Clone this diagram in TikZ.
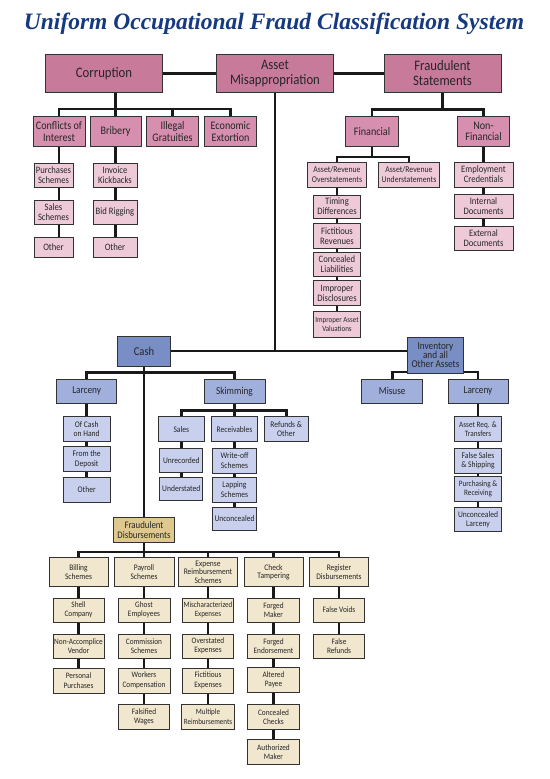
\documentclass[tikz,border=0pt]{standalone}
\usepackage{fontspec}
\setmainfont{Carlito}[FakeStretch=0.88]
\newfontfamily\titlefont{Liberation Serif}
\pgfdeclarelayer{bg}
\pgfsetlayers{bg,main}
\definecolor{pinkA}{RGB}{200,122,155}
\definecolor{pinkB}{RGB}{214,143,174}
\definecolor{pinkC}{RGB}{238,202,217}
\definecolor{blueA}{RGB}{122,142,198}
\definecolor{blueB}{RGB}{160,175,220}
\definecolor{blueC}{RGB}{200,208,238}
\definecolor{tanA}{RGB}{222,200,142}
\definecolor{tanB}{RGB}{241,231,206}
\definecolor{edgecol}{RGB}{50,50,50}
\definecolor{titleblue}{RGB}{22,58,128}
\newcommand\fsz[2]{\fontsize{#1}{#2}\selectfont}
\tikzset{
 box/.style={draw=edgecol, line width=0.8pt, rectangle, inner sep=0pt, align=center, text=black!85},
 sz/.style 2 args={minimum width=#1pt, minimum height=#2pt},
 conn/.style={line width=2.6pt, black!90},
 pA/.style={box, fill=pinkA, font=\fsz{14.5}{15}},
 pB/.style={box, fill=pinkB, font=\fsz{11.5}{11.5}},
 pC/.style={box, fill=pinkC, font=\fsz{9.8}{10}},
 bA/.style={box, fill=blueA, font=\fsz{10.5}{9}},
 bB/.style={box, fill=blueB, font=\fsz{10.5}{10.5}},
 bC/.style={box, fill=blueC, font=\fsz{8.6}{9.4}},
 tA/.style={box, fill=tanA, font=\fsz{10}{10.5}},
 tB/.style={box, fill=tanB, font=\fsz{8.5}{8.8}},
 tC/.style={box, fill=tanB, font=\fsz{8.3}{9.5}},
}
\begin{document}
\begin{tikzpicture}[x=1pt,y=-1pt]
\useasboundingbox (0,0) rectangle (549,779);
\node[anchor=base, text=titleblue, font=\titlefont\bfseries\itshape\fsz{23.5}{26}] (title) at (274,29) {Uniform Occupational Fraud Classification System};
% top level
\node[pA, sz={117}{38}] (corr) at (104,73.5) {Corruption};
\node[pA, sz={117}{38}] (am) at (275,73.5) {Asset\\Misappropriation};
\node[pA, sz={117}{38}] (fst) at (442.5,73.5) {Fraudulent\\Statements};
% corruption
\node[pB, sz={52}{30}] (coi) at (59,131.5) {Conflicts of\\Interest};
\node[pB, sz={51}{30}] (brib) at (115.5,131.5) {Bribery};
\node[pB, sz={52}{30}] (ig) at (172.5,131.5) {Illegal\\Gratuities};
\node[pB, sz={52}{30}] (ee) at (230.5,131.5) {Economic\\Extortion};
\node[pC, sz={39}{24}] (ps) at (53.5,175) {Purchases\\Schemes};
\node[pC, sz={39}{24}] (ss) at (53.5,212) {Sales\\Schemes};
\node[pC, sz={39}{20}] (co) at (53.5,247) {Other};
\node[pC, sz={44}{24}] (ik) at (115,175) {Invoice\\Kickbacks};
\node[pC, sz={44}{24}] (br) at (115,212) {Bid Rigging};
\node[pC, sz={44}{20}] (bo) at (115,247) {Other};
% fraudulent statements
\node[pB, sz={53}{30}] (fin) at (372,131.5) {Financial};
\node[pB, sz={52}{30}] (nf) at (483.5,131.5) {Non-\\Financial};
\node[pC, sz={59}{25}, font=\fsz{8.8}{9.6}] (aro) at (337,174.5) {Asset/Revenue\\Overstatements};
\node[pC, sz={61}{25}, font=\fsz{8.8}{9.6}] (aru) at (409,174.5) {Asset/Revenue\\Understatements};
\node[pC, sz={59}{25}] (ec) at (483.5,174.5) {Employment\\Credentials};
\node[pC, sz={59}{24}] (idoc) at (483.5,206) {Internal\\Documents};
\node[pC, sz={59}{24.5}] (edoc) at (483.5,238.5) {External\\Documents};
\node[pC, sz={47.5}{23}] (td) at (337,206.5) {Timing\\Differences};
\node[pC, sz={47.5}{25}] (fr) at (337,236) {Fictitious\\Revenues};
\node[pC, sz={47.5}{24.5}] (cl) at (337,264.5) {Concealed\\Liabilities};
\node[pC, sz={47.5}{25}] (idis) at (337,293) {Improper\\Disclosures};
\node[pC, sz={47.5}{25.5}, font=\fsz{7.9}{9}] (iav) at (337,324.5) {Improper Asset\\Valuations};
% asset misappropriation
\node[bA, sz={53}{30}, font=\fsz{12}{12}] (cash) at (144,351) {Cash};
\node[bA, sz={56}{35.5}] (inv) at (435.5,355.5) {Inventory\\and all\\Other Assets};
\node[bB, sz={60}{24}] (lar1) at (86.7,391.3) {Larceny};
\node[bB, sz={61}{24}] (skim) at (234.5,391.3) {Skimming};
\node[bC, sz={47}{25}] (och) at (86.7,429.2) {Of Cash\\on Hand};
\node[bC, sz={47}{25}] (ftd) at (86.7,459.2) {From the\\Deposit};
\node[bC, sz={47}{24.5}] (lo) at (86.7,490) {Other};
\node[bC, sz={46}{25}] (sales) at (181.3,429.2) {Sales};
\node[bC, sz={46.6}{25}] (recv) at (234.5,429.2) {Receivables};
\node[bC, sz={44}{25}] (ro) at (286.2,429.2) {Refunds \&\\Other};
\node[bC, sz={43}{24.4}] (unr) at (181.3,460.5) {Unrecorded};
\node[bC, sz={43}{23.7}] (und) at (181.3,489) {Understated};
\node[bC, sz={44}{25}] (wos) at (234.5,460.5) {Write-off\\Schemes};
\node[bC, sz={44}{25}] (laps) at (234.5,489.5) {Lapping\\Schemes};
\node[bC, sz={44}{23}] (unc) at (234.5,518.5) {Unconcealed};
\node[bB, sz={61}{24.3}] (mis) at (392.2,391.2) {Misuse};
\node[bB, sz={60}{24.3}] (lar2) at (478,391.2) {Larceny};
\node[bC, sz={46.7}{25}, font=\fsz{8.2}{9}] (arq) at (478,429.2) {Asset Req. \&\\Transfers};
\node[bC, sz={46.7}{25}] (fss) at (478,460.8) {False Sales\\\& Shipping};
\node[bC, sz={46.7}{25}, font=\fsz{8.2}{9}] (pr) at (478,489.2) {Purchasing \&\\Receiving};
\node[bC, sz={46.7}{24.4}] (ul) at (478,519.5) {Unconcealed\\Larceny};
% fraudulent disbursements
\node[tA, sz={61}{24.6}] (fd) at (144,530) {Fraudulent\\Disbursements};
\node[tB, sz={59}{29}] (bs) at (78.5,572.2) {Billing\\Schemes};
\node[tB, sz={60}{29}] (pys) at (144,572.2) {Payroll\\Schemes};
\node[tB, sz={59}{29}] (ers) at (208,572.2) {Expense\\Reimbursement\\Schemes};
\node[tB, sz={59}{29}] (ct) at (273.5,572.2) {Check\\Tampering};
\node[tB, sz={59}{29}] (rd) at (339,572.2) {Register\\Disbursements};
\node[tC, sz={51}{24}] (sc) at (78.5,610) {Shell\\Company};
\node[tC, sz={51}{24}] (nav) at (78.5,646) {Non-Accomplice\\Vendor};
\node[tC, sz={51}{25}] (pp) at (78.5,680.5) {Personal\\Purchases};
\node[tC, sz={52}{24}] (ge) at (144,610) {Ghost\\Employees};
\node[tC, sz={52}{24}] (cs) at (144,646) {Commission\\Schemes};
\node[tC, sz={52}{25}] (wc) at (144,680.5) {Workers\\Compensation};
\node[tC, sz={51}{25}] (fw) at (144,716.8) {Falsified\\Wages};
\node[tC, sz={51.5}{24}, font=\fsz{8}{9.5}] (me) at (208,610) {Mischaracterized\\Expenses};
\node[tC, sz={51.5}{24}] (oe) at (208,646) {Overstated\\Expenses};
\node[tC, sz={51.5}{25}] (fe) at (208,680.5) {Fictitious\\Expenses};
\node[tC, sz={52.6}{25}, font=\fsz{8}{9.5}] (mr) at (208,716.8) {Multiple\\Reimbursements};
\node[tC, sz={51.7}{24}] (fm) at (273.5,610) {Forged\\Maker};
\node[tC, sz={51.7}{24}] (fen) at (273.5,646) {Forged\\Endorsement};
\node[tC, sz={51.7}{25}] (ap) at (273.5,680) {Altered\\Payee};
\node[tC, sz={51.7}{25.5}] (cc) at (273.5,717) {Concealed\\Checks};
\node[tC, sz={51.7}{25.5}] (amk) at (273.5,752) {Authorized\\Maker};
\node[tC, sz={51.7}{24}] (fv) at (339,610) {False Voids};
\node[tC, sz={51.7}{24}] (fref) at (339,646) {False\\Refunds};
% connectors
\begin{pgfonlayer}{bg}
\fill[white] (0,0) rectangle (549,779);
\draw[conn] (corr.east) -- (am.west);
\draw[conn] (am.east) -- (fst.west);
% corruption
\path (brib.north) ++(0,-7) coordinate (cb);
\draw[conn] (brib.north |- corr.south) -- (brib.north);
\draw[conn] (coi.north) |- (cb) -| (ee.north);
\draw[conn] (ig.north) -- (ig.north |- cb);
\draw[conn] (coi.south) -- (coi.south |- co.north);
\draw[conn] (brib.south) -- (brib.south |- bo.north);
% fraudulent statements
\path (fin.north) ++(0,-6.5) coordinate (fb);
\draw[conn] (fst.south) -- (fst.south |- fb);
\draw[conn] (fin.north) |- (fb) -| (nf.north);
\path (aro.north) ++(0,-4.5) coordinate (fib);
\draw[conn] (fin.south) -- (fin.south |- fib);
\draw[conn] (aro.north) |- (fib) -| (aru.north);
\draw[conn] (aro.south) -- (aro.south |- iav.north);
\draw[conn] (nf.south) -- (nf.south |- edoc.north);
% asset misappropriation
\draw[conn] (am.south) -- (am.south |- cash.east);
\draw[conn] (cash.east) -- (cash.east -| inv.west);
\draw[conn] (cash.south) -- (cash.south |- fd.north);
\path (lar1.north) ++(0,-6.5) coordinate (cab);
\draw[conn] (lar1.north) |- (cab) -| (skim.north);
\draw[conn] (lar1.south) -- (lar1.south |- lo.north);
\path (sales.north) ++(0,-6) coordinate (skb);
\draw[conn] (skim.south) -- (skim.south |- skb);
\draw[conn] (sales.north) |- (skb) -| (ro.north);
\draw[conn] (recv.north) -- (recv.north |- skb);
\draw[conn] (sales.south) -- (sales.south |- und.north);
\draw[conn] (recv.south) -- (recv.south |- unc.north);
\draw[conn] (mis.north) |- ([yshift=1.5pt]inv.south) -| (lar2.north);
\draw[conn] (lar2.south) -- (lar2.south |- ul.north);
% fraudulent disbursements
\path (bs.north) ++(0,-5.5) coordinate (fdb);
\draw[conn] (fd.south) -- (fd.south |- fdb);
\draw[conn] (bs.north) |- (fdb) -| (rd.north);
\draw[conn] (pys.north) -- (pys.north |- fdb);
\draw[conn] (ers.north) -- (ers.north |- fdb);
\draw[conn] (ct.north) -- (ct.north |- fdb);
\draw[conn] (bs.south) -- (bs.south |- pp.north);
\draw[conn] (pys.south) -- (pys.south |- fw.north);
\draw[conn] (ers.south) -- (ers.south |- mr.north);
\draw[conn] (ct.south) -- (ct.south |- amk.north);
\draw[conn] (rd.south) -- (rd.south |- fref.north);
\end{pgfonlayer}
\end{tikzpicture}
\end{document}
